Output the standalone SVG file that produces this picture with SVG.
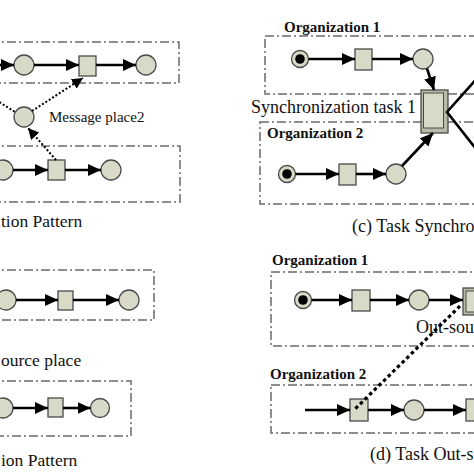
<svg xmlns="http://www.w3.org/2000/svg" width="474" height="474" viewBox="0 0 474 474">
<style>
.box{fill:none;stroke:#6a6a6a;stroke-width:1.5;stroke-dasharray:9 3 2 3}
.pl{fill:#d8d9c6;stroke:#4a4a4a;stroke-width:1.3}
.tr{fill:#d8d9c6;stroke:#4a4a4a;stroke-width:1.3}
.arc{fill:none;stroke:#000;stroke-width:2.6;marker-end:url(#ah)}
.ln{fill:none;stroke:#000;stroke-width:2.6}
.dot{fill:none;stroke:#000;stroke-width:2;stroke-dasharray:2 2}
.dotb{fill:none;stroke:#000;stroke-width:3.2;stroke-dasharray:3.5 3}
.t{font-family:"Liberation Serif","Times New Roman",serif;fill:#111}
.org{font-family:"Liberation Serif","Times New Roman",serif;font-weight:bold;font-size:15px;fill:#111}
</style>
<defs>
<marker id="ah" markerUnits="userSpaceOnUse" markerWidth="14" markerHeight="12" refX="13" refY="6" orient="auto">
<path d="M0,0 L13,6 L0,12 z" fill="#000"/>
</marker>
<marker id="ahs" markerUnits="userSpaceOnUse" markerWidth="12" markerHeight="11" refX="11" refY="5.5" orient="auto">
<path d="M0,0 L11,5.5 L0,11 z" fill="#000"/>
</marker>
</defs>
<rect width="474" height="474" fill="#fff"/>

<!-- panel (a) -->
<g id="panel-a">
<rect class="box" x="-10" y="42" width="189" height="41"/>
<rect class="box" x="-10" y="146" width="190" height="56"/>
<g id="a-p1"><circle class="pl" cx="24" cy="65" r="10"/></g>
<g id="a-t1"><rect class="tr" x="79" y="56" width="17" height="20"/></g>
<g id="a-p2"><circle class="pl" cx="146" cy="65" r="10"/></g>
<g id="a-msg"><circle class="pl" cx="24" cy="117" r="10"/><text class="t" x="49" y="122" font-size="15">Message place2</text></g>
<g id="a-p3"><circle class="pl" cx="3" cy="170" r="10"/></g>
<g id="a-t2"><rect class="tr" x="48" y="160" width="17" height="20"/></g>
<g id="a-p4"><circle class="pl" cx="111" cy="170" r="10"/></g>
<text class="t" x="1" y="227" font-size="17.5">tion Pattern</text>
</g>

<!-- panel (b) -->
<g id="panel-b">
<rect class="box" x="-10" y="270" width="164" height="50"/>
<rect class="box" x="-10" y="381" width="141" height="55"/>
<g id="b-p1"><circle class="pl" cx="6" cy="300" r="10"/></g>
<g id="b-t1"><rect class="tr" x="58" y="291" width="15" height="19"/></g>
<g id="b-p2"><circle class="pl" cx="129" cy="300" r="10"/></g>
<text class="t" x="1" y="366" font-size="17.5">ource place</text>
<g id="b-p3"><circle class="pl" cx="3" cy="408" r="10"/></g>
<g id="b-t2"><rect class="tr" x="48" y="398" width="15" height="19"/></g>
<g id="b-p4"><circle class="pl" cx="100" cy="408" r="9.5"/></g>
<text class="t" x="1" y="466" font-size="17.5">ion Pattern</text>
</g>

<!-- panel (c) -->
<g id="panel-c">
<rect class="box" x="265" y="36" width="220" height="58"/>
<rect class="box" x="260" y="122" width="225" height="82"/>
<text class="org" x="284" y="32">Organization 1</text>
<text class="org" x="267" y="138">Organization 2</text>
<g id="c-s1"><circle class="pl" cx="300" cy="59" r="8.5" stroke-width="1.8"/><circle cx="300" cy="59" r="4.8" fill="#000"/></g>
<g id="c-t1"><rect class="tr" x="355" y="49" width="17" height="21"/></g>
<g id="c-p1"><circle class="pl" cx="423" cy="59" r="10"/></g>
<g id="c-sync"><rect x="421" y="90" width="27" height="43" fill="#b9bba6" stroke="#4a4a4a" stroke-width="1.3"/><rect x="423.5" y="93" width="20" height="35" fill="#d8d9c6" stroke="#4a4a4a" stroke-width="1"/></g>
<text class="t" x="251" y="113" font-size="18">Synchronization task 1</text>
<g id="c-s2"><circle class="pl" cx="287" cy="174" r="8.5" stroke-width="1.8"/><circle cx="287" cy="174" r="4.8" fill="#000"/></g>
<g id="c-t2"><rect class="tr" x="339" y="164" width="17" height="21"/></g>
<g id="c-p2"><circle class="pl" cx="396" cy="174" r="10"/></g>
<text class="t" x="352" y="232" font-size="18">(c) Task Synchro</text>
</g>

<!-- panel (d) -->
<g id="panel-d">
<rect class="box" x="271" y="272" width="215" height="74"/>
<rect class="box" x="271" y="385" width="215" height="48"/>
<text class="org" x="272" y="265">Organization 1</text>
<text class="org" x="270" y="379">Organization 2</text>
<g id="d-s1"><circle class="pl" cx="303" cy="300" r="8.5" stroke-width="1.8"/><circle cx="303" cy="300" r="4.8" fill="#000"/></g>
<g id="d-t1"><rect class="tr" x="352" y="290" width="18" height="21"/></g>
<g id="d-p1"><circle class="pl" cx="419" cy="300" r="10"/></g>
<g id="d-out"><rect x="463" y="288" width="24" height="27" fill="#b9bba6" stroke="#4a4a4a" stroke-width="1.3"/><rect x="466" y="291" width="20" height="21" fill="#d8d9c6" stroke="#4a4a4a" stroke-width="1"/></g>
<text class="t" x="416" y="333" font-size="18">Out-sou</text>
<g id="d-t2"><rect class="tr" x="350" y="399" width="18" height="22"/></g>
<g id="d-p2"><circle class="pl" cx="414" cy="410" r="10"/></g>
<g id="d-t3"><rect class="tr" x="466" y="399" width="18" height="22"/></g>
<text class="t" x="370" y="460" font-size="18">(d) Task Out-s</text>
</g>

<!-- connectors -->
<g id="connectors">
<path class="arc" d="M-10,65 L14,65"/>
<path class="arc" d="M34,65 L79,65"/>
<path class="arc" d="M96,65 L136,65"/>
<path class="dot" d="M-4,100 L15,112"/>
<path class="dot" d="M32,111 L83,78" marker-end="url(#ahs)"/>
<path class="dot" d="M56,160 L28,128" marker-end="url(#ahs)"/>
<path class="arc" d="M13,170 L48,170"/>
<path class="arc" d="M65,170 L101,170"/>

<path class="arc" d="M16,300 L58,300"/>
<path class="arc" d="M73,300 L119,300"/>
<path class="arc" d="M13,408 L48,408"/>
<path class="arc" d="M63,408 L90.5,408"/>

<path class="arc" d="M308.5,59 L355,59"/>
<path class="arc" d="M372,59 L413,59"/>
<path class="arc" d="M427,68.5 L434,90"/>
<path class="arc" d="M295.5,174 L339,174"/>
<path class="arc" d="M356,174 L386,174"/>
<path class="arc" d="M402,166 L433,133"/>
<path class="ln" d="M480,75 L447,112 L480,154"/>

<path class="arc" d="M311.5,300 L352,300"/>
<path class="arc" d="M370,300 L409,300"/>
<path class="arc" d="M429,300 L463,300"/>
<path class="dotb" d="M460,306 L354,410"/>
<path class="arc" d="M305,410 L350,410"/>
<path class="arc" d="M368,410 L404,410"/>
<path class="arc" d="M424,410 L466,410"/>
</g>
</svg>
